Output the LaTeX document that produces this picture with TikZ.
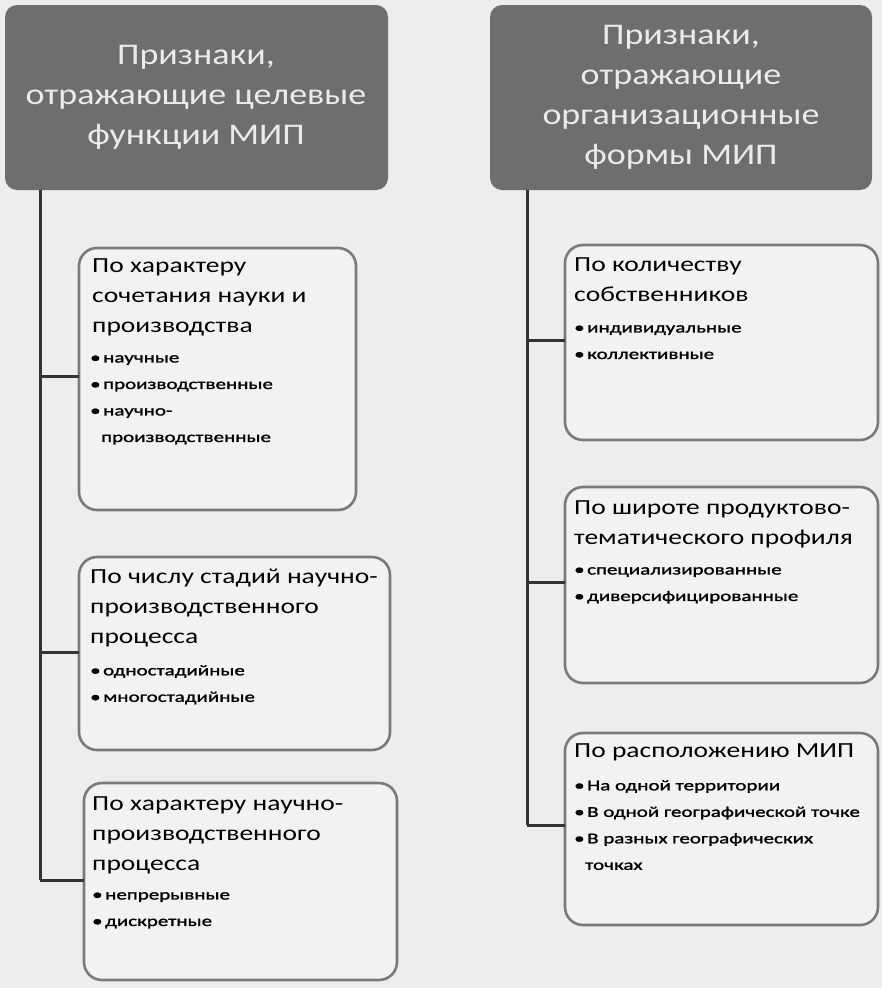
\documentclass[tikz,border=0pt]{standalone}
\usepackage{fontspec}
\setmainfont{Carlito}
\newfontfamily\hfont[FakeStretch=1.2]{Carlito}
\newfontfamily\tfont[FakeStretch=1.28]{Carlito}
\newfontfamily\bfont[FakeStretch=1.4,FakeBold=1.5]{Carlito}
\begin{document}
\begin{tikzpicture}[x=1pt,y=-1pt,
 hdr/.style={draw=none,fill=hdrc,rounded corners=12pt},
 bx/.style={draw=bordc,line width=2.6pt,fill=boxc,rounded corners=18pt},
 htext/.style={text=white!92!black,font=\hfont\fontsize{30}{40}\selectfont,align=center},
 ttl/.style={anchor=north west,inner sep=0pt,align=left,font=\tfont\fontsize{21.5}{30}\selectfont},
 bul/.style={anchor=north west,inner sep=0pt,align=left,font=\bfont\fontsize{15}{26.5}\selectfont},
 trunk/.style={draw=black!80,line width=3pt}]
\definecolor{hdrc}{HTML}{6E6E6E}
\definecolor{bordc}{HTML}{7A7A7A}
\definecolor{boxc}{HTML}{F2F2F2}
\fill[fill=black!7] (0,0) rectangle (882,988);
\useasboundingbox (0,0) rectangle (882,988);
% headers
\draw[hdr] (5,5) rectangle (388,190);
\node[htext] (h1) at (196,97) {Признаки,\\отражающие целевые\\функции МИП};
\draw[hdr] (490,5) rectangle (872,190);
\node[htext] (h2) at (681,97) {Признаки,\\отражающие\\организационные\\формы МИП};
% trunks
\coordinate (l0) at (40,190); \coordinate (l1) at (40,376); \coordinate (l2) at (40,652); \coordinate (l3) at (40,880);
\coordinate (r0) at (527,190); \coordinate (r1) at (527,340); \coordinate (r2) at (527,582); \coordinate (r3) at (527,825);
\draw[trunk] (l0) -- (l3);
\draw[trunk] (r0) -- (r3);
% boxes
\draw[bx] (79,248) rectangle (356,510);
\draw[bx] (79,557) rectangle (390,750);
\draw[bx] (84,783) rectangle (397,980);
\draw[bx] (565,245) rectangle (878,440);
\draw[bx] (565,487) rectangle (878,683);
\draw[bx] (565,733) rectangle (878,925);
\coordinate (b1) at (79,376); \coordinate (b2) at (79,652); \coordinate (b3) at (84,880);
\coordinate (c1) at (565,340); \coordinate (c2) at (565,582); \coordinate (c3) at (565,825);
\draw[trunk] (l1) -- (b1); \draw[trunk] (l2) -- (b2); \draw[trunk] (l3) -- (b3);
\draw[trunk] (r1) -- (c1); \draw[trunk] (r2) -- (c2); \draw[trunk] (r3) -- (c3);
% texts
\node[ttl] (t1) at (92,259) {По характеру\\сочетания науки и\\производства};
\node[bul] (u1) at (90,355) {•\,научные\\•\,производственные\\•\,научно-\\\hspace{11pt}производственные};
\node[ttl] (t2) at (90,569) {По числу стадий научно-\\производственного\\процесса};
\node[bul] (u2) at (90,665) {•\,одностадийные\\•\,многостадийные};
\node[ttl] (t3) at (92,796) {По характеру научно-\\производственного\\процесса};
\node[bul] (u3) at (92,892) {•\,непрерывные\\•\,дискретные};
\node[ttl] (t4) at (574,258) {По количеству\\собственников};
\node[bul] (u4) at (574,325) {•\,индивидуальные\\•\,коллективные};
\node[ttl] (t5) at (574,500) {По широте продуктово-\\тематического профиля};
\node[bul] (u5) at (574,567) {•\,специализированные\\•\,диверсифицированные};
\node[ttl] (t6) at (574,743) {По расположению МИП};
\node[bul] (u6) at (574,780) {•\,На одной территории\\•\,В одной географической точке\\•\,В разных географических\\\hspace{11pt}точках};
\end{tikzpicture}
\end{document}
